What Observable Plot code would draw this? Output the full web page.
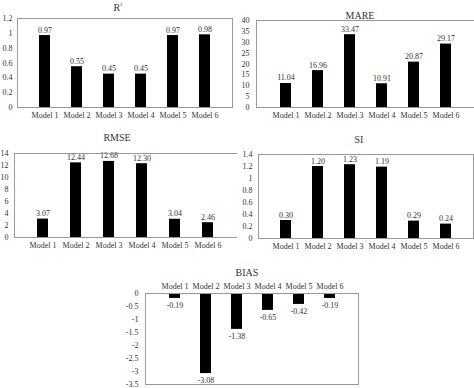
<!DOCTYPE html>
<html><head><meta charset="utf-8">
<script src="https://cdn.jsdelivr.net/npm/d3@7"></script>
<script src="https://cdn.jsdelivr.net/npm/@observablehq/plot@0.6"></script>
<style>
body{margin:0;background:#fff;width:474px;height:388px;position:relative;overflow:hidden;font-family:"Liberation Serif","Times New Roman",serif;}
.p{position:absolute;}
.p text{font-family:"Liberation Serif","Times New Roman",serif;}
.t{position:absolute;font-size:10px;color:#333;transform:translate(-50%,-50%);white-space:nowrap;}
</style></head><body>
<script>
const models = ["Model 1","Model 2","Model 3","Model 4","Model 5","Model 6"];
const r2   = [0.97, 0.55, 0.45, 0.45, 0.97, 0.98];
const mare = [11.04, 16.96, 33.47, 10.91, 20.87, 29.17];
const rmse = [3.07, 12.44, 12.68, 12.30, 3.04, 2.46];
const si   = [0.30, 1.20, 1.23, 1.19, 0.29, 0.24];
const bias = [-0.19, -3.08, -1.38, -0.65, -0.42, -0.19];
const r2Ticks = [0,0.2,0.4,0.6,0.8,1,1.2];
const mareTicks = [0,5,10,15,20,25,30,35,40];
const rmseTicks = [0,2,4,6,8,10,12,14];
const siTicks = [0,0.2,0.4,0.6,0.8,1,1.2,1.4];
const biasTicks = [0,-0.5,-1,-1.5,-2,-2.5,-3,-3.5];
const FONT = '"Liberation Serif", "Times New Roman", serif';

function panel({values, ticks, domain, left, top, width, height, mL, mR, mT, mB, xAxis="bottom", neg=false, pad=5}) {
  const data = models.map((m,i)=>({m, v: values[i]}));
  const chart = Plot.plot({
    width, height, marginLeft: mL, marginRight: mR, marginTop: mT, marginBottom: mB,
    style: {fontFamily: FONT, fontSize: "8px", color: "#333", background: "#fff", overflow: "hidden"},
    x: {domain: models, padding: 0.66, axis: xAxis, tickSize: 0, tickPadding: 5, label: null},
    y: {domain, ticks, tickSize: 0, tickPadding: pad, label: null, tickFormat: d => String(d)},
    marks: [
      Plot.barY(data, {x: "m", y: "v", fill: "#000"}),
      Plot.text(data, {x: "m", y: "v", text: d => d.v.toFixed(2), lineAnchor: neg ? "top" : "bottom", dy: neg ? 4 : -3, fontSize: 8, fill: "#333"}),
      Plot.frame({stroke: "#999", strokeWidth: 1})
    ]
  });
  chart.classList.add("p");
  chart.style.left = left + "px";
  chart.style.top = top + "px";
  document.body.appendChild(chart);
}
function title(txt, x, y) {
  const d = document.createElement("div");
  d.className = "t"; d.style.left = x + "px"; d.style.top = y + "px";
  d.innerHTML = txt;
  document.body.appendChild(d);
}
panel({values: r2, ticks: r2Ticks, domain: [0,1.2], left: 0, top: 0, width: 237, height: 125, mL: 17, mR: 5, mT: 18, mB: 18});
panel({values: mare, ticks: mareTicks, domain: [0,40], left: 237, top: 0, width: 237, height: 125, mL: 19, mR: 0, mT: 20, mB: 18, pad: 7});
panel({values: rmse, ticks: rmseTicks, domain: [0,14], left: 0, top: 125, width: 237, height: 130, mL: 14, mR: 0, mT: 28, mB: 18, pad: 6});
panel({values: si, ticks: siTicks, domain: [0,1.4], left: 237, top: 125, width: 237, height: 130, mL: 21, mR: 1, mT: 29, mB: 17, pad: 6});
panel({values: bias, ticks: biasTicks, domain: [-3.5,0], left: 110, top: 255, width: 260, height: 133, mL: 35, mR: 12, mT: 38, mB: 4, xAxis: "top", neg: true, pad: 7});
title("R<sup style='font-size:5px'>2</sup>", 118, 7);
title("MARE", 360, 15);
title("RMSE", 117, 137);
title("SI", 359, 139);
title("BIAS", 247, 272);
</script>
</body></html>
